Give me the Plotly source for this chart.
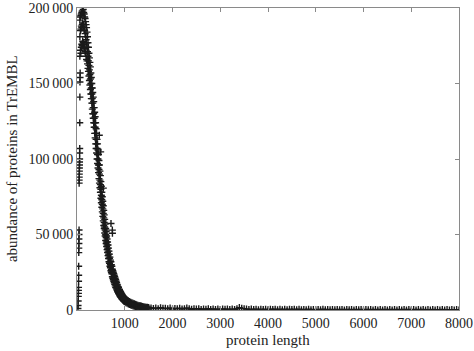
import plotly.graph_objects as go

# ---- data (counts in thousands) ----
band_len = [60, 70, 80, 90, 100, 110, 120, 130, 140, 150, 160, 170, 180, 190, 200,
            210, 220, 230, 240, 250, 260, 270, 280, 290, 300, 310, 320, 330, 340, 350,
            360, 370, 380, 390, 400, 410, 420, 430, 440, 450, 460, 470, 480, 490, 500,
            510, 520, 530, 540, 550, 560, 570, 580, 590, 600, 610, 620, 630, 640, 650,
            660, 670, 680, 690, 700, 710, 720, 730, 740, 750, 760, 770, 780, 790, 800,
            810, 820, 830, 840, 850, 860, 870, 880, 890, 900, 910, 920, 930, 940, 950,
            960, 970, 980, 990, 1000, 1025, 1050, 1075, 1100, 1125, 1150, 1175, 1200,
            1225, 1250, 1275, 1300, 1325, 1350, 1375, 1400, 1425, 1450, 1475, 1500]
band_lo = [168, 172, 170, 174, 176, 175, 178, 177, 176, 174, 173, 171, 170, 168, 166,
           165, 163, 160, 158, 155, 152, 149, 146, 143, 140, 137, 133, 130, 127, 124,
           121, 117, 114, 110, 107, 104, 100, 97, 94, 91, 87, 84, 81, 78, 74,
           71, 68, 65, 62, 59, 56, 54, 51, 49, 46, 44, 42, 40, 38, 36,
           34, 32, 31, 29, 28, 26, 25, 24, 22, 21, 20, 19, 18, 17, 16,
           15, 14.5, 13.8, 13, 12.3, 11.7, 11, 10.4, 9.9, 9.3, 8.8, 8.4, 7.9, 7.5, 7.1,
           6.7, 6.4, 6.0, 5.7, 5.4, 4.8, 4.4, 4.0, 3.6, 3.3, 3.0, 2.7, 2.5,
           2.2, 2.0, 1.8, 1.7, 1.5, 1.4, 1.3, 1.2, 1.1, 1.0, 0.9, 0.85]
band_mid = [181, 185, 186, 188, 187, 189, 190, 188, 189, 186, 185, 183, 181, 179, 177,
            174, 171, 168, 165, 162, 159, 156, 153, 150, 147, 143, 140, 137, 134, 130,
            127, 124, 121, 117, 113, 110, 107, 103, 100, 96, 93, 90, 86, 83, 80,
            76, 73, 70, 67, 64, 61, 58, 55, 53, 50, 48, 45, 43, 41, 39,
            37, 35, 34, 32, 30, 29, 27, 26, 25, 24, 22, 21, 20, 19, 18,
            17, 16.5, 15.8, 15, 14, 13.3, 12.7, 12, 11.5, 10.9, 10.3, 9.8, 9.3, 8.8, 8.4,
            8.0, 7.6, 7.2, 6.8, 6.5, 5.9, 5.4, 5.0, 4.6, 4.2, 3.8, 3.5, 3.2,
            2.9, 2.7, 2.5, 2.3, 2.1, 1.9, 1.8, 1.6, 1.5, 1.4, 1.3, 1.2]
band_hi = [192, 194, 195, 196, 197, 198, 197, 199, 197, 196, 194, 193, 191, 189, 187,
           184, 181, 177, 174, 170, 167, 164, 161, 157, 154, 150, 147, 144, 141, 138,
           134, 131, 128, 124, 120, 117, 113, 110, 106, 103, 99, 96, 92, 89, 85,
           82, 78, 75, 72, 69, 66, 63, 60, 57, 54, 52, 49, 47, 45, 43,
           41, 39, 37, 35, 33, 32, 30, 29, 27, 26, 25, 24, 23, 22, 21,
           20, 19, 18, 17, 16.5, 15.5, 15, 14, 13.5, 12.8, 12.2, 11.6, 11, 10.5, 10,
           9.5, 9.0, 8.6, 8.2, 7.8, 7.2, 6.6, 6.1, 5.6, 5.2, 4.8, 4.4, 4.1,
           3.8, 3.5, 3.2, 3.0, 2.8, 2.6, 2.4, 2.2, 2.0, 1.9, 1.8, 1.7]

short_len = [20, 22, 25, 27, 30, 30, 32, 33, 35, 35, 37, 38, 40, 40, 42, 43,
             45, 45, 47, 48, 50, 50, 52, 53, 55, 55, 57, 58, 60, 62, 64, 66]
short_cnt = [1, 3, 6, 9, 11, 13, 15, 19, 23, 29, 38, 41, 44, 47, 50, 53,
             84, 86, 88, 90, 92, 94, 96, 98, 100, 104, 107, 124, 141, 151, 154, 157]

outlier_len = [467, 496, 551, 712, 740, 742]
outlier_cnt = [115.7, 104.7, 80.7, 57.3, 52.9, 50.8]

tail_len = [1550, 1600, 1650, 1700, 1750, 1800, 1850, 1900, 1950, 2000, 2050, 2100, 2150,
            2200, 2250, 2300, 2350, 2400, 2450, 2500, 2550, 2600, 2650, 2700, 2750, 2800,
            2850, 2900, 2950, 3000, 3050, 3100, 3150, 3200, 3250, 3300, 3350, 3400, 3450,
            3500, 3550, 3600, 3650, 3700, 3750, 3800, 3850, 3900, 3950, 4000, 4050, 4100,
            4150, 4200, 4250, 4300, 4350, 4400, 4450, 4500, 4550, 4600, 4650, 4700, 4750,
            4800, 4850, 4900, 4950, 5000, 5050, 5100, 5150, 5200, 5250, 5300, 5350, 5400,
            5450, 5500, 5550, 5600, 5650, 5700, 5750, 5800, 5850, 5900, 5950, 6000, 6050,
            6100, 6150, 6200, 6250, 6300, 6350, 6400, 6450, 6500, 6550, 6600, 6650, 6700,
            6750, 6800, 6850, 6900, 6950, 7000, 7050, 7100, 7150, 7200, 7250, 7300, 7350,
            7400, 7450, 7500, 7550, 7600, 7650, 7700, 7750, 7800, 7850, 7900, 7950, 8000]
tail_cnt = [1.4, 1.0, 1.3, 0.9, 1.5, 1.2, 1.1, 0.8, 1.3, 0.7, 1.0, 0.9, 1.2,
            0.6, 0.9, 1.4, 0.8, 0.5, 0.9, 0.6, 0.8, 0.4, 0.7, 0.5, 0.8, 0.35,
            0.7, 0.4, 0.6, 0.3, 0.7, 0.45, 0.6, 0.3, 0.6, 0.35, 0.8, 1.6, 1.1,
            0.9, 0.6, 0.25, 0.6, 0.3, 0.5, 0.2, 0.5, 0.25, 0.55, 0.2, 0.5, 0.3,
            0.5, 0.18, 0.45, 0.2, 0.5, 0.15, 0.45, 0.25, 0.5, 0.15, 0.45, 0.2, 0.4,
            0.12, 0.45, 0.15, 0.4, 0.1, 0.4, 0.2, 0.45, 0.12, 0.4, 0.1, 0.4, 0.15,
            0.35, 0.1, 0.4, 0.08, 0.35, 0.12, 0.4, 0.08, 0.35, 0.1, 0.35, 0.07, 0.4,
            0.1, 0.35, 0.06, 0.35, 0.08, 0.3, 0.06, 0.35, 0.07, 0.3, 0.05, 0.35, 0.06,
            0.3, 0.05, 0.3, 0.06, 0.3, 0.04, 0.3, 0.05, 0.3, 0.04, 0.3, 0.05, 0.25,
            0.04, 0.3, 0.03, 0.25, 0.04, 0.3, 0.03, 0.25, 0.03, 0.25, 0.02, 0.25, 0.02]

y_tickvals = [0, 50000, 100000, 150000, 200000]
y_ticktext = ["0", "50\u2009000", "100\u2009000", "150\u2009000", "200\u2009000"]
x_tickvals = [1000, 2000, 3000, 4000, 5000, 6000, 7000, 8000]
x_ticktext = ["1000", "2000", "3000", "4000", "5000", "6000", "7000", "8000"]

# ---- assemble ----
xs = band_len * 3 + short_len + outlier_len + tail_len
ys_k = band_lo + band_mid + band_hi + short_cnt + outlier_cnt + tail_cnt
ys = [v * 1000 for v in ys_k]

FONT = "Liberation Serif, Times New Roman, serif"

fig = go.Figure()
fig.add_trace(go.Scatter(
    x=xs, y=ys, mode="markers",
    marker=dict(symbol="cross-thin", size=5, color="#1a1a1a",
                line=dict(width=1.4, color="#1a1a1a")),
    showlegend=False, hoverinfo="skip",
))

axis_common = dict(showgrid=False, zeroline=False, showline=True, linecolor="#8a8a8a",
                   linewidth=1, mirror="ticks", ticks="inside", ticklen=4,
                   tickcolor="#8a8a8a", automargin=False,
                   tickfont=dict(family=FONT, size=14, color="#222"))

fig.update_xaxes(range=[0, 8000], tickvals=x_tickvals, ticktext=x_ticktext, **axis_common)
fig.update_yaxes(range=[0, 200000], tickvals=y_tickvals, ticktext=y_ticktext, **axis_common)

fig.update_layout(
    width=474, height=351, autosize=False,
    margin=dict(l=77, r=15, t=8, b=41, pad=0, autoexpand=False),
    plot_bgcolor="white", paper_bgcolor="white",
    font=dict(family=FONT, size=14, color="#222"),
    annotations=[
        dict(text="protein length", x=0.5, y=-0.099, xref="paper", yref="paper",
             xanchor="center", yanchor="middle", showarrow=False,
             font=dict(family=FONT, size=15, color="#222")),
        dict(text="abundance of proteins in TrEMBL", x=-0.17, y=0.5, xref="paper",
             yref="paper", xanchor="center", yanchor="middle", textangle=-90,
             showarrow=False, font=dict(family=FONT, size=15, color="#222")),
    ],
)

fig.write_html("out.html")
